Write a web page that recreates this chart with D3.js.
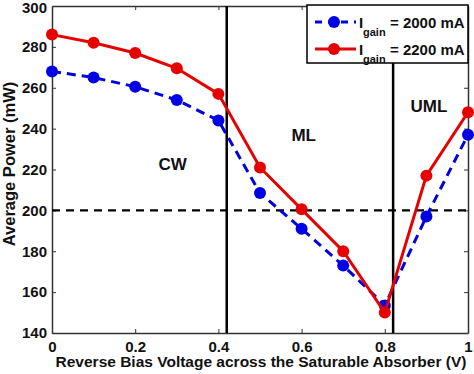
<!DOCTYPE html>
<html>
<head>
<meta charset="utf-8">
<script src="https://cdn.jsdelivr.net/npm/d3@7"></script>
<style>
  body { margin: 0; background: #fff; }
  text { font-family: "Liberation Sans", Arial, sans-serif; font-weight: bold; fill: #111; }
</style>
</head>
<body>
<svg id="canvas" width="474" height="374"></svg>
<script>
// data
const voltage = [0, 0.1, 0.2, 0.3, 0.4, 0.5, 0.6, 0.7, 0.8, 0.9, 1.0];
const power2000 = [268, 265, 260.5, 254, 244, 208.5, 191, 173, 153.5, 197, 237];
const power2200 = [286, 282, 277, 269.5, 257, 221, 200.5, 180, 150, 217, 248];
const xTicks = [0, 0.2, 0.4, 0.6, 0.8, 1];
const yTicks = [140, 160, 180, 200, 220, 240, 260, 280, 300];
const boundaries = [0.42, 0.82];
const threshold = 200;
const regions = [
  { label: "CW", x: 0.29, y: 220 },
  { label: "ML", x: 0.605, y: 234 },
  { label: "UML", x: 0.906, y: 248 }
];
const seriesNames = ["2000 mA", "2200 mA"];

const svg = d3.select("#canvas");
const margin = { top: 6, right: 6, bottom: 41, left: 52 };
const width = 474 - margin.left - margin.right;
const height = 374 - margin.top - margin.bottom;

const g = svg.append("g")
  .attr("transform", `translate(${margin.left},${margin.top})`);

const x = d3.scaleLinear().domain([0, 1]).range([0, width]);
const y = d3.scaleLinear().domain([140, 300]).range([height, 0]);

// axes, ticks pointing inward
g.append("g")
  .attr("transform", `translate(0,${height})`)
  .call(d3.axisBottom(x).tickValues(xTicks).tickSizeInner(-4).tickSizeOuter(0).tickPadding(8)
    .tickFormat(d => d === 0 || d === 1 ? d3.format("d")(d) : d3.format(".1f")(d)))
  .call(a => a.selectAll("text").style("font-size", "15px"));
g.append("g")
  .call(d3.axisLeft(y).tickValues(yTicks).tickSizeInner(-4).tickSizeOuter(0).tickPadding(5))
  .call(a => a.selectAll("text").style("font-size", "15px"))
  .call(a => a.selectAll("text").filter(d => d === 300).attr("y", 2));
g.append("g")
  .call(d3.axisTop(x).tickValues(xTicks).tickSizeInner(-4).tickSizeOuter(0).tickFormat(""));
g.append("g")
  .attr("transform", `translate(${width},0)`)
  .call(d3.axisRight(y).tickValues(yTicks).tickSizeInner(-4).tickSizeOuter(0).tickFormat(""));
g.selectAll(".domain").attr("stroke", "#333").attr("stroke-width", 1.5);
g.selectAll(".tick line").attr("stroke", "#333");

// horizontal dashed 200 mW line
g.append("line")
  .attr("x1", 0).attr("x2", width)
  .attr("y1", y(threshold)).attr("y2", y(threshold))
  .attr("stroke", "#000").attr("stroke-width", 2.2)
  .attr("stroke-dasharray", "8,6");

// vertical regime boundaries
g.selectAll(".bound")
  .data(boundaries)
  .enter()
  .append("line")
  .attr("x1", d => x(d)).attr("x2", d => x(d))
  .attr("y1", 0).attr("y2", height)
  .attr("stroke", "#000").attr("stroke-width", 2.5);

// regime labels
g.selectAll(".region")
  .data(regions)
  .enter()
  .append("text")
  .attr("x", d => x(d.x))
  .attr("y", d => y(d.y))
  .attr("text-anchor", "middle")
  .style("font-size", "17px")
  .text(d => d.label);

const line = d3.line()
  .x((d, i) => x(voltage[i]))
  .y(d => y(d));

// blue dashed series
g.append("path")
  .datum(power2000)
  .attr("fill", "none")
  .attr("stroke", "#0000e0")
  .attr("stroke-width", 3)
  .attr("stroke-dasharray", "9,6")
  .attr("d", line);
g.selectAll(".p2000")
  .data(power2000)
  .enter()
  .append("circle")
  .attr("cx", (d, i) => x(voltage[i]))
  .attr("cy", d => y(d))
  .attr("r", 6)
  .attr("fill", "#0000e6");

// red solid series
g.append("path")
  .datum(power2200)
  .attr("fill", "none")
  .attr("stroke", "#e60000")
  .attr("stroke-width", 3)
  .attr("d", line);
g.selectAll(".p2200")
  .data(power2200)
  .enter()
  .append("circle")
  .attr("cx", (d, i) => x(voltage[i]))
  .attr("cy", d => y(d))
  .attr("r", 6)
  .attr("fill", "#e60000");

// legend
const legend = svg.append("g").attr("transform", "translate(307,5)");
legend.append("rect")
  .attr("width", 161).attr("height", 58)
  .attr("fill", "#fff").attr("stroke", "#000").attr("stroke-width", 1.5);
const legItems = [
  { name: seriesNames[0], color: "#0000e6", dash: "7,6" },
  { name: seriesNames[1], color: "#e60000", dash: null }
];
legItems.forEach((d, i) => {
  const row = legend.append("g").attr("transform", `translate(0,${17 + i * 27})`);
  row.append("line")
    .attr("x1", 8).attr("x2", 49).attr("y1", 0).attr("y2", 0)
    .attr("stroke", d.color).attr("stroke-width", 3)
    .attr("stroke-dasharray", d.dash);
  row.append("circle").attr("cx", 27).attr("cy", 0).attr("r", 6).attr("fill", d.color);
  row.append("text").attr("x", 52).attr("y", 6).style("font-size", "15px").text("I");
  row.append("text").attr("x", 56).attr("y", 14).style("font-size", "11px").text("gain");
  row.append("text").attr("x", 83).attr("y", 6).style("font-size", "15px").text("= " + d.name);
});

// axis titles
svg.append("text")
  .attr("x", 261)
  .attr("y", 367)
  .attr("text-anchor", "middle")
  .style("font-size", "15.5px")
  .text("Reverse Bias Voltage across the Saturable Absorber (V)");
svg.append("text")
  .attr("transform", `translate(15,164) rotate(-90)`)
  .attr("text-anchor", "middle")
  .style("font-size", "16.5px")
  .text("Average Power (mW)");
</script>
</body>
</html>
